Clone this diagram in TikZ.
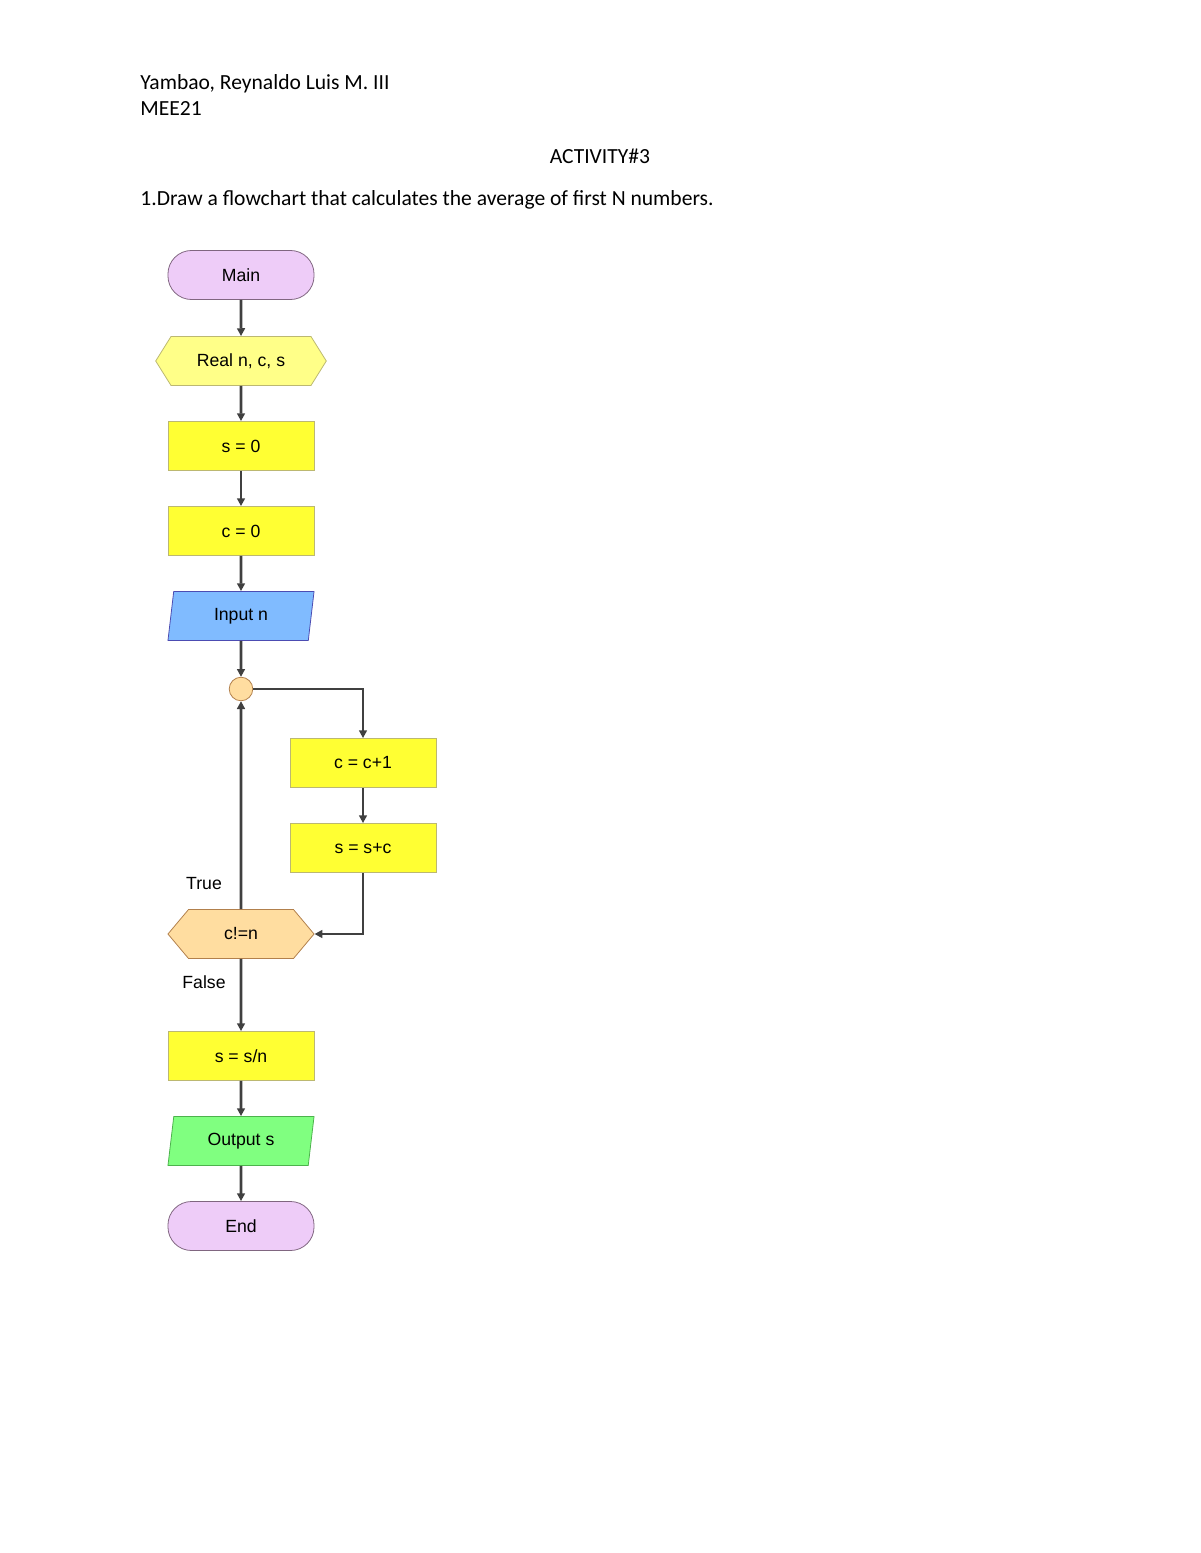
\documentclass[tikz,border=0pt]{standalone}
\usepackage{fontspec}
\setmainfont{Carlito}
\newfontfamily\chartfont{Liberation Sans}
\usetikzlibrary{shapes.geometric,shapes.symbols,arrows.meta}
\definecolor{termpink}{HTML}{EECCF8}
\definecolor{declyellow}{HTML}{FFFF88}
\definecolor{boxyellow}{HTML}{FFFF33}
\definecolor{inblue}{HTML}{80BBFF}
\definecolor{outgreen}{HTML}{80FF80}
\definecolor{decorange}{HTML}{FFDDA0}
\definecolor{linegray}{HTML}{404040}
\begin{document}
\begin{tikzpicture}
        [
        x=0.51pt, y=-0.51pt,
        every node/.style={font=\chartfont\fontsize{9}{11}\selectfont, inner sep=0pt},
        term/.style={rectangle, rounded corners=12pt, fill=termpink, draw=gray!80!violet, minimum width=74.5pt, minimum height=25pt},
        decl/.style={signal, signal to=east and west, signal pointer angle=116, fill=declyellow, draw=gray!60!yellow, minimum width=87pt, minimum height=25pt},
        proc/.style={rectangle, fill=boxyellow, draw=gray!60!yellow, minimum width=74.5pt, minimum height=25pt},
        io/.style={trapezium, trapezium left angle=70, trapezium right angle=110, trapezium stretches body, minimum width=74.5pt, minimum height=25pt},
        dec/.style={signal, signal to=east and west, signal pointer angle=100, fill=decorange, draw=gray!60!orange, minimum width=74.5pt, minimum height=25pt},
        flow/.style={draw=linegray, line width=1.5pt, -{Triangle[length=4pt,width=4pt]}},
        ]
                \useasboundingbox (0,0) rectangle (1200,1553);
                % header
                \node[anchor=west, font=\fontsize{11}{13}\selectfont] (name) at (140, 84) {Yambao, Reynaldo Luis M. III};
                \node[anchor=west, font=\fontsize{11}{13}\selectfont] (course) at (140,109) {MEE21};
                \node[font=\fontsize{11}{13}\selectfont] (title) at (600,156) {ACTIVITY\#3};
                \node[anchor=west, font=\fontsize{11}{13}\selectfont] (task) at (140,200) {1.Draw a flowchart that calculates the average of first N numbers.};

                % nodes
                \node[term] (main) at         (241, 275) {Main};
                \node[decl] (real) at         (241, 361) {Real n, c, s};
                \node[proc] (s0) at           (241, 446) {s = 0};
                \node[proc] (c0) at           (241, 531) {c = 0};
                \node[io, fill=inblue, draw=gray!60!blue] (input) at (241, 616) {Input n};
                \node[circle, fill=decorange, draw=gray!60!orange, minimum size=12pt] (loop) at (241, 689) {};
                \node[proc] (inc) at          (363, 763) {c = c+1};
                \node[proc] (sum) at          (363, 848) {s = s+c};
                \node[dec] (cond) at          (241, 934) {c!=n};
                \node[proc] (avg) at          (241,1056) {s = s/n};
                \node[io, fill=outgreen, draw=gray!60!green] (output) at (241,1141) {Output s};
                \node[term] (end) at          (241,1226) {End};

                % labels
                \node (true) at  (204, 884) {True};
                \node (false) at (204, 982) {False};

                % drawing code
                \foreach \from/\to in {main/real,real/s0,s0/c0,c0/input,input/loop,inc/sum,cond/avg,avg/output,output/end}
                        \draw[flow] (\from) -- (\to);
                \draw[flow] (loop) -| (inc);
                \draw[flow] (sum) |- (cond);
                \draw[flow] (cond) -- (loop);
        \end{tikzpicture}
\end{document}
